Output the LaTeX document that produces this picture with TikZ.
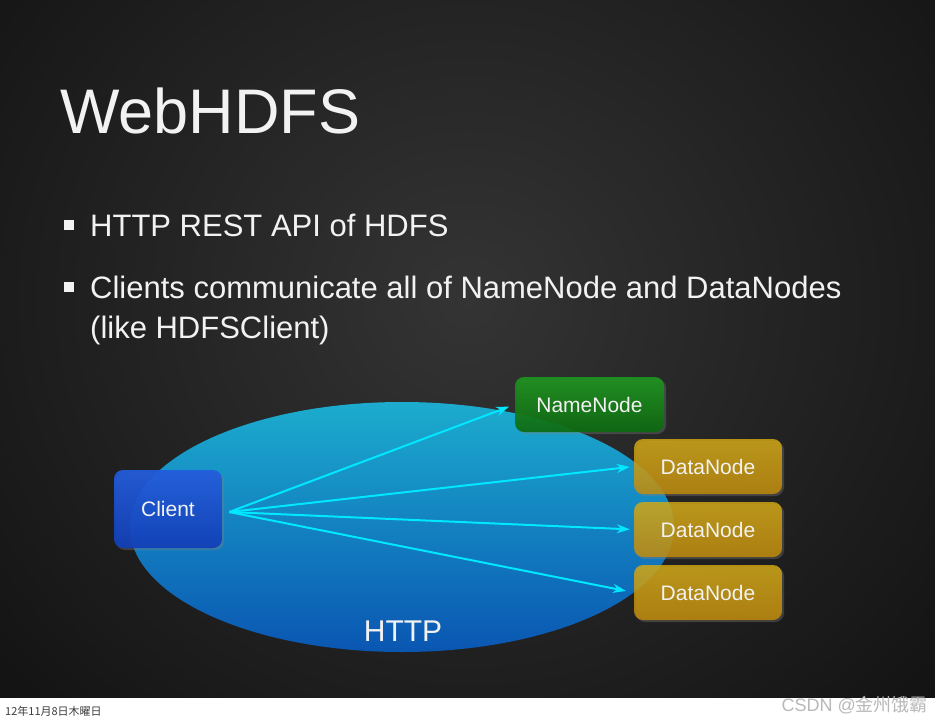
\documentclass[tikz,border=0pt]{standalone}
\usepackage{fontspec}
\setmainfont{Liberation Sans}
\newfontfamily\cjkjp{Noto Sans CJK JP}
\newfontfamily\cjksc{Noto Sans CJK SC}
\usetikzlibrary{arrows.meta,shadows}
\definecolor{bgin}{RGB}{52,52,52}
\definecolor{bgout}{RGB}{14,14,14}
\definecolor{slidetext}{RGB}{242,242,242}
\definecolor{elltop}{RGB}{28,172,206}
\definecolor{ellbot}{RGB}{10,86,178}
\definecolor{clitop}{RGB}{34,92,222}
\definecolor{clibot}{RGB}{16,62,184}
\definecolor{nntop}{RGB}{30,150,30}
\definecolor{nnbot}{RGB}{10,105,14}
\definecolor{dntop}{RGB}{212,170,18}
\definecolor{dnbot}{RGB}{196,140,8}
\definecolor{arrowcyan}{RGB}{0,232,255}
\definecolor{foottext}{RGB}{60,60,60}
\definecolor{wmark}{RGB}{185,185,185}
\tikzset{
  box/.style={rounded corners=9pt, inner sep=0pt, text=slidetext,
    font=\fontsize{21}{21}\selectfont, drop shadow={opacity=0.35, shadow xshift=2pt, shadow yshift=-2pt}},
  clientbox/.style={box, minimum width=108pt, minimum height=78pt,
    top color=clitop, bottom color=clibot, fill opacity=0.92, text opacity=1},
  namebox/.style={box, minimum width=149pt, minimum height=55pt,
    top color=nntop, bottom color=nnbot, fill opacity=0.9, text opacity=1},
  databox/.style={box, minimum width=148pt, minimum height=55pt,
    top color=dntop, bottom color=dnbot, fill opacity=0.82, text opacity=1},
  link/.style={draw=arrowcyan, line width=2pt, -{Stealth[length=13pt,width=9pt]}},
  bulletsq/.style={fill=slidetext, minimum size=10pt, inner sep=0pt},
  bullettext/.style={anchor=base west, text=slidetext, inner sep=0pt,
    font=\fontsize{31}{31}\selectfont}
}
\begin{document}
\begin{tikzpicture}[x=1pt,y=-1pt]
\useasboundingbox (0,0) rectangle (935,720);
\fill[white] (0,0) rectangle (935,720);
\begin{scope}
  \clip (0,0) rectangle (935,697);
  \shade[inner color=bgin, outer color=bgout] (-260,-380) rectangle (1195,980);
\end{scope}

% title
\node[anchor=base west, text=slidetext, inner sep=0pt,
  font=\fontsize{63}{63}\selectfont] (title) at (60,133) {WebHDFS};

% bullets
\node[bulletsq] (b1) at (68.5,224.5) {};
\node[bullettext] (t1) at (90,236) {HTTP REST API of HDFS};
\node[bulletsq] (b2) at (68.5,286.5) {};
\node[bullettext] (t2) at (90,298) {Clients communicate all of NameNode and DataNodes};
\node[bullettext] (t3) at (90,338) {(like HDFSClient)};

% HTTP ellipse
\shade[top color=elltop, bottom color=ellbot] (402,527) ellipse [x radius=272, y radius=125];
\node[text=slidetext, font=\fontsize{30}{30}\selectfont, anchor=base] (http) at (403,641) {HTTP};

% nodes
\node[clientbox] (client) at (168,509) {Client};
\node[namebox] (nn) at (589.5,404.5) {NameNode};
\node[databox] (dn1) at (708,466.5) {DataNode};
\node[databox] (dn2) at (708,529.5) {DataNode};
\node[databox] (dn3) at (708,592.5) {DataNode};

% arrows
\coordinate (src) at ([xshift=7pt,yshift=-3pt]client.east);
\draw[link, shorten >=6pt] (src) -- (nn.west);
\draw[link, shorten >=4pt] (src) -- (dn1.west);
\draw[link, shorten >=4pt] (src) -- (dn2.west);
\draw[link, shorten >=8pt] (src) -- (dn3.west);

% footer
\node[anchor=base west, inner sep=0pt, text=foottext,
  font=\cjkjp\fontsize{11}{11}\selectfont] (date) at (5,715) {12年11月8日木曜日};
\node[anchor=base east, inner sep=0pt, text=wmark,
  font=\fontsize{18}{18}\selectfont] (wm) at (928,711) {CSDN @{\cjksc 金州饿霸}};
\end{tikzpicture}
\end{document}
